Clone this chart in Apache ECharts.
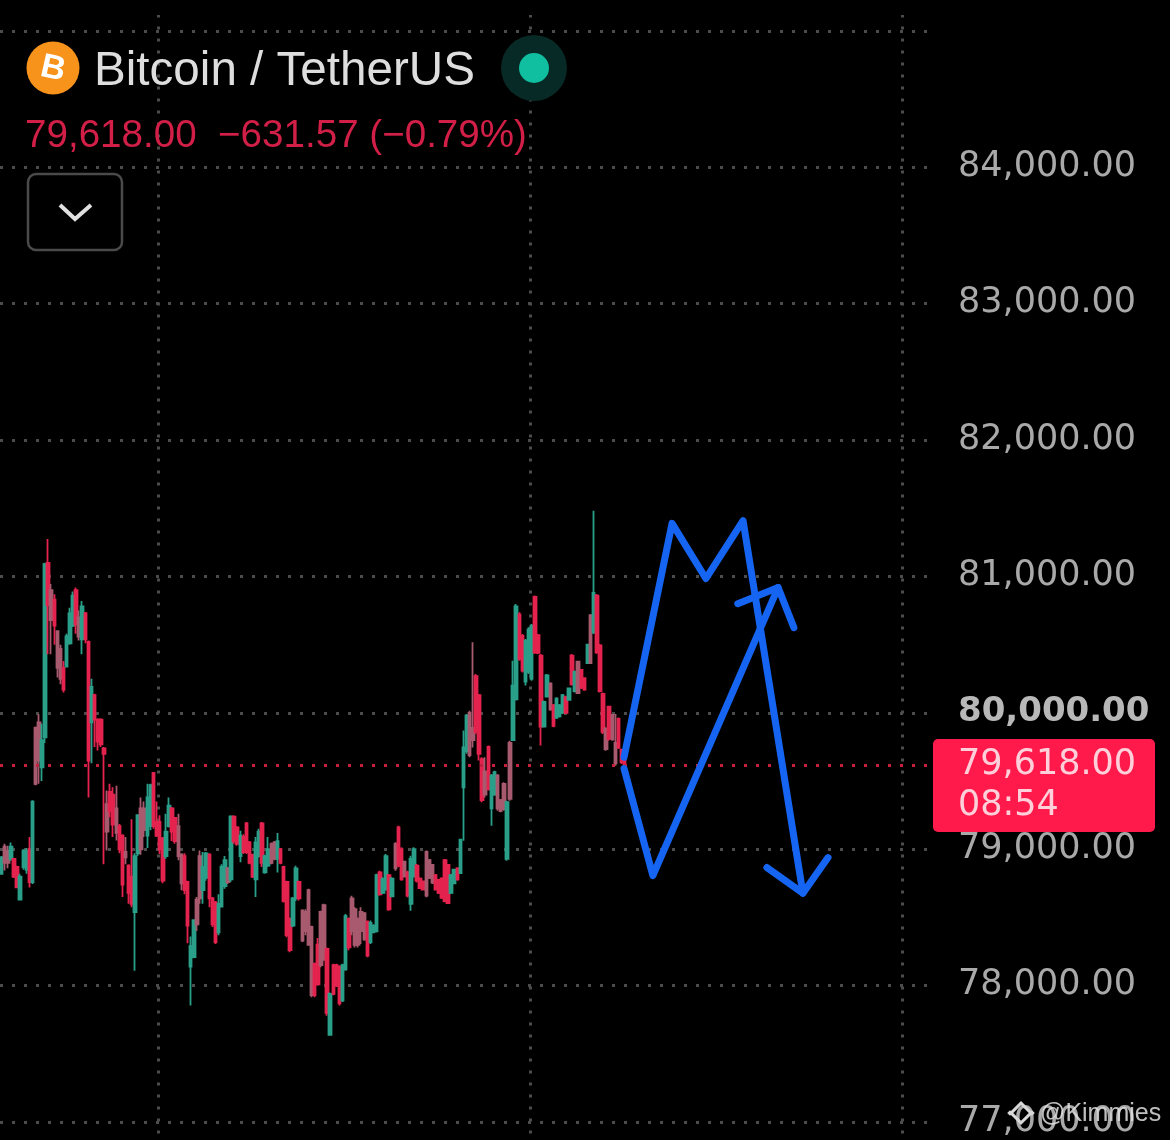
<!DOCTYPE html>
<html><head><meta charset="utf-8">
<style>html,body{margin:0;padding:0;background:#000}#c{width:1170px;height:1140px}</style>
<script src="https://cdn.jsdelivr.net/npm/echarts@6/dist/echarts.min.js"></script>
</head><body><div id="c"></div>
<script>
const titleText = 'Bitcoin / TetherUS';
const lastPrice = 79618;
const changeText = '79,618.00  \u2212631.57 (\u22120.79%)';
const countdown = '08:54';
const watermark = '@Kimmies';
const yMin = 76000, yMax = 86000, yStep = 1000;
const barSlots = 300;
const timeGridBars = [51, 171, 291];
// bars that read as a muted mauve in the picture
const mutedBars = [1,2,11,12,16,18,19,25,34,37,40,45,46,57,58,63,64,73,87,88,97,98,99,100,103,104,113,114,115,116,117,127,130,137,138,139,151,152,156,160,161,162,164,177,186,190,195,197,198];
// [open, close, low, high]
const candles = [
[78820,78940,78815,78950],[79020,78900,78845,79040],[78900,78990,78860,79025],[78930,79020,78915,79050],
[78930,78800,78790,78930],[78870,78720,78715,78880],[78630,78800,78625,78820],[78870,78990,78850,79000],
[78850,78990,78820,79010],[79000,78760,78720,79090],[78760,79350,78745,79360],[79480,79890,79470,79900],
[79930,79650,79480,79990],[79600,79800,79500,79920],[79820,81090,79780,81100],[81100,80790,80430,81275],
[80900,80680,80430,80945],[80830,80640,80500,80870],[80600,80330,80260,80600],[80470,80250,80210,80500],
[80330,80170,80150,80380],[80340,80560,80335,80580],[80510,80730,80500,80770],[80640,80860,80630,80890],
[80900,80650,80580,80920],[80700,80560,80530,80750],[80540,80780,80430,80820],[80730,80540,80510,80740],
[80520,79650,79380,80530],[79930,80190,79630,80250],[80130,79950,79750,80140],[79950,79790,79725,79960],
[79950,79770,79750,79960],[79740,79700,78890,79750],[79330,79130,78990,79430],[79420,79280,79235,79480],
[79400,79180,79090,79455],[79300,79120,79065,79465],[79170,79000,78970,79185],[79100,78740,78650,79110],
[78980,78940,78890,79090],[78880,78680,78600,78890],[78800,78600,78575,79220],[78540,78950,78110,78970],
[78970,79250,78950,79250],[79300,79000,78960,79380],[79300,79140,79090,79350],[79100,79380,79010,79480],
[79170,79470,79140,79480],[79560,79170,79150,79565],[79200,79100,79090,79350],[79200,79000,78965,79250],
[79080,78770,78750,79090],[78950,79130,78930,79260],[79170,79320,79160,79380],[79300,79130,79060,79310],
[79230,79060,79040,79235],[79170,78950,78920,79260],[78960,78750,78700,78970],[78950,78700,78670,78970],
[78760,78440,78310,78770],[78140,78290,77855,78360],[78210,78480,78200,78480],[78450,78630,78400,78650],
[78640,78950,78600,78990],[78700,78870,78600,78980],[78790,78970,78770,78980],[78960,78640,78575,78970],
[78640,78450,78430,78650],[78610,78320,78305,78620],[78390,78600,78370,78670],[78580,78870,78575,78890],
[78730,78920,78710,78950],[78860,78760,78745,78870],[78780,79240,78760,79250],[79240,79060,79040,79250],
[79160,79040,79025,79170],[78950,79100,78905,79135],[79090,78980,78965,79110],[79190,78980,78965,79200],
[79050,78900,78890,79060],[78960,78800,78790,78965],[78780,79050,78650,79090],[78950,79130,78940,79150],
[79190,78900,78870,79200],[78830,78950,78820,78960],[78880,79000,78870,79090],[79040,78900,78890,79050],
[79050,78930,78920,79060],[78930,79060,78830,79120],[79000,78900,78890,79010],[78870,78620,78610,78880],
[78760,78370,78355,78770],[78490,78260,78245,78500],[78440,78640,78430,78650],[78640,78860,78620,78880],
[78760,78640,78625,78770],[78550,78330,78320,78560],[78540,78400,78370,78560],[78700,78300,78295,78710],
[78430,77930,77915,78440],[78160,77930,77915,78170],[78300,78010,78000,78350],[78540,78150,78135,78550],
[78590,78190,78185,78600],[78270,77800,77780,78280],[77640,77940,77635,77950],[78150,77940,77930,78160],
[78150,78000,77990,78160],[78140,77870,77855,78150],[77890,78150,77880,78160],[78120,78510,78110,78525],
[78490,78280,78260,78500],[78640,78400,78370,78660],[78560,78300,78280,78575],[78490,78300,78280,78500],
[78400,78540,78305,78575],[78530,78340,78330,78540],[78470,78220,78208,78477],[78320,78460,78305,78477],
[78390,78440,78390,78450],[78400,78810,78390,78820],[78830,78670,78660,78843],[78680,78780,78672,78795],
[78705,78950,78697,78965],[78810,78560,78550,78819],[78655,78785,78648,78795],[78860,79040,78843,79051],
[79160,78880,78868,79173],[79000,78780,78770,79014],[78910,78800,78794,78916],[78830,78660,78648,78843],
[78600,78930,78550,78953],[78800,79000,78794,79014],[78880,78770,78757,78892],[78785,78715,78709,78794],
[78765,78705,78697,78770],[78980,78660,78648,78990],[78920,78790,78782,78929],[78885,78755,78745,78892],
[78810,78705,78697,78819],[78775,78680,78672,78782],[78785,78645,78635,78794],[78920,78620,78611,78929],
[78885,78605,78599,78892],[78680,78810,78672,78819],[78750,78850,78745,78855],[78860,78780,78770,78868],
[78825,79070,78819,79075],[79454,79747,79063,79870],[79720,79980,79700,79992],[80000,79690,79674,80016],
[79800,79890,79747,80517],[80270,79860,79845,80285],[80130,79700,79650,80138],[79660,79360,79344,79674],
[79570,79400,79380,79674],[79750,79440,79430,79760],[79300,79540,79173,79552],[79400,79565,79393,79576],
[79540,79300,79283,79552],[79360,79280,79271,79368],[79480,79295,79283,79491],[78930,79345,78916,79356],
[79780,79370,79356,79796],[79800,80200,79796,80383],[80100,80780,80090,80798],[80720,80395,80383,80737],
[80565,80310,80297,80578],[80230,80530,80200,80542],[80300,80610,80285,80627],[80250,80640,80236,80652],
[80850,80445,80432,80860],[80570,80440,80432,80578],[80420,79900,79760,80432],[79900,80080,79894,80090],
[80120,80275,80114,80285],[80215,80025,80016,80224],[80055,79905,79894,80065],[79965,80105,79955,80114],
[79975,80055,79967,80065],[80000,80130,79992,80138],[80115,80000,79992,80126],[80095,80180,80090,80187],
[80420,80210,80200,80432],[80160,80300,80150,80310],[80375,80145,80138,80383],[80315,80185,80175,80322],
[80255,80170,80163,80261],[80365,80500,80358,80505],[80365,80715,80358,80725],[80590,80880,80578,81483],
[80860,80445,80432,80872],[80495,80160,80150,80505],[80140,79860,79845,80150],[79885,79735,79723,79894],
[80045,79810,79796,80053],[79985,79805,79796,79992],[79630,79780,79613,79992],[79955,79745,79735,79967],
[79730,79640,79625,79735],[79675,79618,79576,79680]
];
// hand-drawn projection, [bar position, price]
const sketchDown = [[201.3,79675],[216.8,81390],[227.7,80985],[239.7,81410],[259,78678]];
const sketchDownHead = [[247.4,78866],[259,78678],[267.1,78939]];
const sketchUp = [[201.3,79592],[210.6,78807],[251,80919],[256.1,80625]];
const sketchUpHead = [[238,80801],[251,80919]];

const categories = Array.from({length: barSlots}, (_, i) => String(i));
const fmt = v => v.toLocaleString('en-US', {minimumFractionDigits: 2, maximumFractionDigits: 2});
const sketch = d => ({type:'line', xAxisIndex:1, data:d, symbol:'none', silent:true, clip:false, z:10,
  lineStyle:{color:'#1565f2', width:7, cap:'round', join:'round'}});
const muted = {color:'#a85a6e', color0:'#a85a6e', borderColor:'#a85a6e', borderColor0:'#a85a6e'};
const candleData = candles.map((c, i) => mutedBars.includes(i) ? {value:c, itemStyle:muted} : c);
const gridStyle = {color:'#4c4c4c', width:3, type:[3,9]};
const chart = echarts.init(document.getElementById('c'), null, {renderer:'canvas'});
chart.setOption({
  animation:false,
  backgroundColor:'#000',
  grid:{left:0, top:-105.4, width:930, height:1363.8, outerBoundsMode:'none', containLabel:false},
  xAxis:[
    {type:'category', data:categories, axisLine:{show:false}, axisTick:{show:false}, axisLabel:{show:false},
     splitLine:{show:true, interval:i=>timeGridBars.includes(i), lineStyle:gridStyle}},
    {type:'value', min:0, max:barSlots, show:false, splitLine:{show:false}}
  ],
  yAxis:{type:'value', min:yMin, max:yMax, interval:yStep, position:'right',
    axisLine:{show:false}, axisTick:{show:false},
    splitLine:{show:true, lineStyle:gridStyle},
    axisLabel:{show:true, margin:28, align:'left', padding:[0,0,1,0], color:'#a9a9a9',
      fontFamily:'DejaVu Sans', fontSize:35,
      formatter:v=> (v===yMin||v>=85000) ? '' : (v===80000 ? '{b|'+fmt(v)+'}' : fmt(v)),
      rich:{b:{fontFamily:'DejaVu Sans', fontWeight:'bold', fontSize:34, color:'#b8b8b8'}}}},
  series:[
    {type:'candlestick', data:candleData, barWidth:3, silent:true,
     itemStyle:{color:'#2a9f89', color0:'#e4234e', borderColor:'#2a9f89', borderColor0:'#e4234e', borderWidth:1.8},
     markLine:{silent:true, symbol:'none', label:{show:false}, animation:false,
       lineStyle:{color:'#c4203f', width:3, type:[3,9]}, data:[{yAxis:lastPrice}]}},
    sketch(sketchDown), sketch(sketchDownHead), sketch(sketchUp), sketch(sketchUpHead)
  ],
  graphic:[
    {type:'rect', shape:{x:0,y:0,width:1170,height:15}, style:{fill:'#000'}, z:1},
    {type:'rect', shape:{x:927,y:0,width:6,height:1140}, style:{fill:'#000'}, z:1},
    {type:'circle', shape:{cx:53,cy:68,r:26.5}, style:{fill:'#f7931a'}, z:2},
    {type:'text', x:53, y:69, rotation:-0.22, z:3,
      style:{text:'B', fill:'#fff', font:'bold 34px "Liberation Sans"', align:'center', verticalAlign:'middle'}},
    {type:'text', x:94, y:72, z:3, style:{text:titleText, fill:'#dedede', font:'47.6px "Liberation Sans"', verticalAlign:'middle'}},
    {type:'circle', shape:{cx:534,cy:68,r:33}, style:{fill:'#082a26'}, z:2},
    {type:'circle', shape:{cx:534,cy:68,r:15}, style:{fill:'#0fbf9f'}, z:3},
    {type:'text', x:25, y:136, z:3, style:{text:changeText, fill:'#d21f47', font:'38.6px "Liberation Sans"', verticalAlign:'middle'}},
    {type:'rect', shape:{x:28,y:174,width:94,height:76,r:8}, style:{fill:'#000',stroke:'#4a4a4a',lineWidth:2.5}, z:2},
    {type:'polyline', shape:{points:[[60,205],[75,219],[91,205]]}, style:{fill:'none',stroke:'#e0e0e0',lineWidth:4}, z:3},
    {type:'rect', shape:{x:933,y:739,width:222,height:93,r:5}, style:{fill:'#ff1a4b'}, z:20},
    {type:'text', x:958, y:765, z:21, style:{text:fmt(lastPrice), fill:'#ffd0da', font:'35px "DejaVu Sans"', verticalAlign:'middle'}},
    {type:'text', x:958, y:806, z:21, style:{text:countdown, fill:'#ffd0da', font:'35px "DejaVu Sans"', verticalAlign:'middle'}},
    {type:'rect', x:1021, y:1113, rotation:Math.PI/4, shape:{x:-7,y:-7,width:14,height:14}, style:{fill:'none',stroke:'#d8d8d8',lineWidth:3}, z:22},
    {type:'rect', x:1010, y:1113, rotation:Math.PI/4, shape:{x:-2,y:-2,width:4,height:4}, style:{fill:'#d8d8d8'}, z:22},
    {type:'rect', x:1032, y:1113, rotation:Math.PI/4, shape:{x:-2,y:-2,width:4,height:4}, style:{fill:'#d8d8d8'}, z:22},
    {type:'text', x:1040, y:1114, z:22, style:{text:watermark, fill:'rgba(225,225,225,0.85)', font:'25px "Liberation Sans"', verticalAlign:'middle'}}
  ]
});
</script></body></html>
